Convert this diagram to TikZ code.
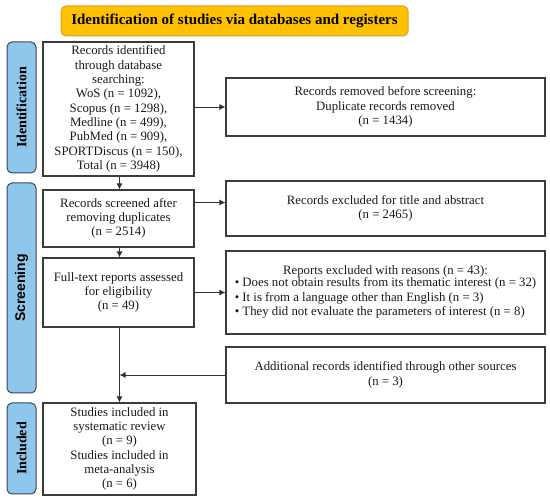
\documentclass[tikz,border=0pt]{standalone}
\usepackage{fontspec}
\setmainfont{Liberation Serif}
\setsansfont{Liberation Sans}
\usetikzlibrary{arrows.meta}
\definecolor{barblue}{HTML}{8FC6EC}
\definecolor{barline}{HTML}{3A4656}
\definecolor{titlefill}{HTML}{FFC000}
\definecolor{titleline}{HTML}{D9A21B}
\definecolor{boxline}{HTML}{3C3C3C}
\tikzset{
  box/.style={draw=boxline, line width=1.1pt, align=center, inner sep=2pt,
    text=black!90, font=\fontsize{12.8}{14.3}\selectfont},
  leftbox/.style={box, minimum width=151pt},
  rightbox/.style={box, minimum width=319pt},
  bar/.style={draw=barline, line width=1pt, fill=barblue, rounded corners=5pt,
    minimum width=29pt, inner sep=0pt},
  barlabel/.style={rotate=90, font=\fontsize{14}{15}\selectfont\rmfamily\bfseries},
  arr/.style={draw=black!80, line width=0.9pt, -{Latex[length=6pt,width=6pt]}},
}
\begin{document}
\begin{tikzpicture}[x=1pt,y=-1pt]
\useasboundingbox (0,0) rectangle (550,502);
% title
\node[draw=titleline, line width=1pt, fill=titlefill, rounded corners=5pt,
  minimum width=347pt, minimum height=30pt, font=\fontsize{15}{17}\selectfont\rmfamily\bfseries]
  (title) at (234.5,21) {Identification of studies via databases and registers};
% side bars
\node[bar, minimum height=131pt] (bid) at (21.5,107.5) {};
\node[barlabel] (lid) at (bid) {Identification};
\node[bar, minimum height=210pt] (bsc) at (21.5,288) {};
\node[barlabel, font=\fontsize{14}{15}\selectfont\sffamily\bfseries] (lsc) at (bsc) {Screening};
\node[bar, minimum height=91pt] (bin) at (21.5,448.5) {};
\node[barlabel] (lin) at (bin) {Included};
% left boxes
\node[leftbox, minimum height=134pt] (ident) at (118.5,109) {Records identified\\through database\\searching:\\WoS (n = 1092),\\Scopus (n = 1298),\\Medline (n = 499),\\PubMed (n = 909),\\SPORTDiscus (n = 150),\\Total (n = 3948)};
\node[leftbox, minimum height=57pt] (screen) at (118.5,218.5) {Records screened after\\removing duplicates\\(n = 2514)};
\node[leftbox, minimum height=69pt] (full) at (118.5,292.5) {Full-text reports assessed\\for eligibility\\(n = 49)};
\node[box, minimum width=153pt, minimum height=92pt] (incl) at (119.5,449) {Studies included in\\systematic review\\(n = 9)\\Studies included in\\meta-analysis\\(n = 6)};
% right boxes
\node[rightbox, minimum height=58pt] (removed) at (385.5,107) {Records removed before screening:\\Duplicate records removed\\(n = 1434)};
\node[rightbox, minimum height=55pt] (excl) at (385.5,208.5) {Records excluded for title and abstract\\(n = 2465)};
\node[rightbox, minimum height=83pt] (reports) at (385.5,292.5) {Reports excluded with reasons (n = 43):\\[-1pt]
  \begin{tabular}{@{}l@{}}
  \textbullet\ Does not obtain results from its thematic interest (n = 32)\\
  \textbullet\ It is from a language other than English (n = 3)\\
  \textbullet\ They did not evaluate the parameters of interest (n = 8)
  \end{tabular}};
\node[rightbox, minimum height=56pt] (add) at (385.5,375) {Additional records identified through other sources\\(n = 3)};
% connectors
\draw[arr] (ident.east |- removed.west) -- (removed.west);
\draw[arr] (ident.south -| incl.north) -- (screen.north -| incl.north);
\draw[arr] ([yshift=6pt]excl.west -| screen.east) -- ([yshift=6pt]excl.west);
\draw[arr] (screen.south -| incl.north) -- (full.north -| incl.north);
\draw[arr] (full.east) -- (reports.west);
\draw[arr] (full.south -| incl.north) -- (incl.north);
\coordinate (join) at (incl.north |- add.west);
\draw[arr] (add.west) -- (join);
\end{tikzpicture}
\end{document}
